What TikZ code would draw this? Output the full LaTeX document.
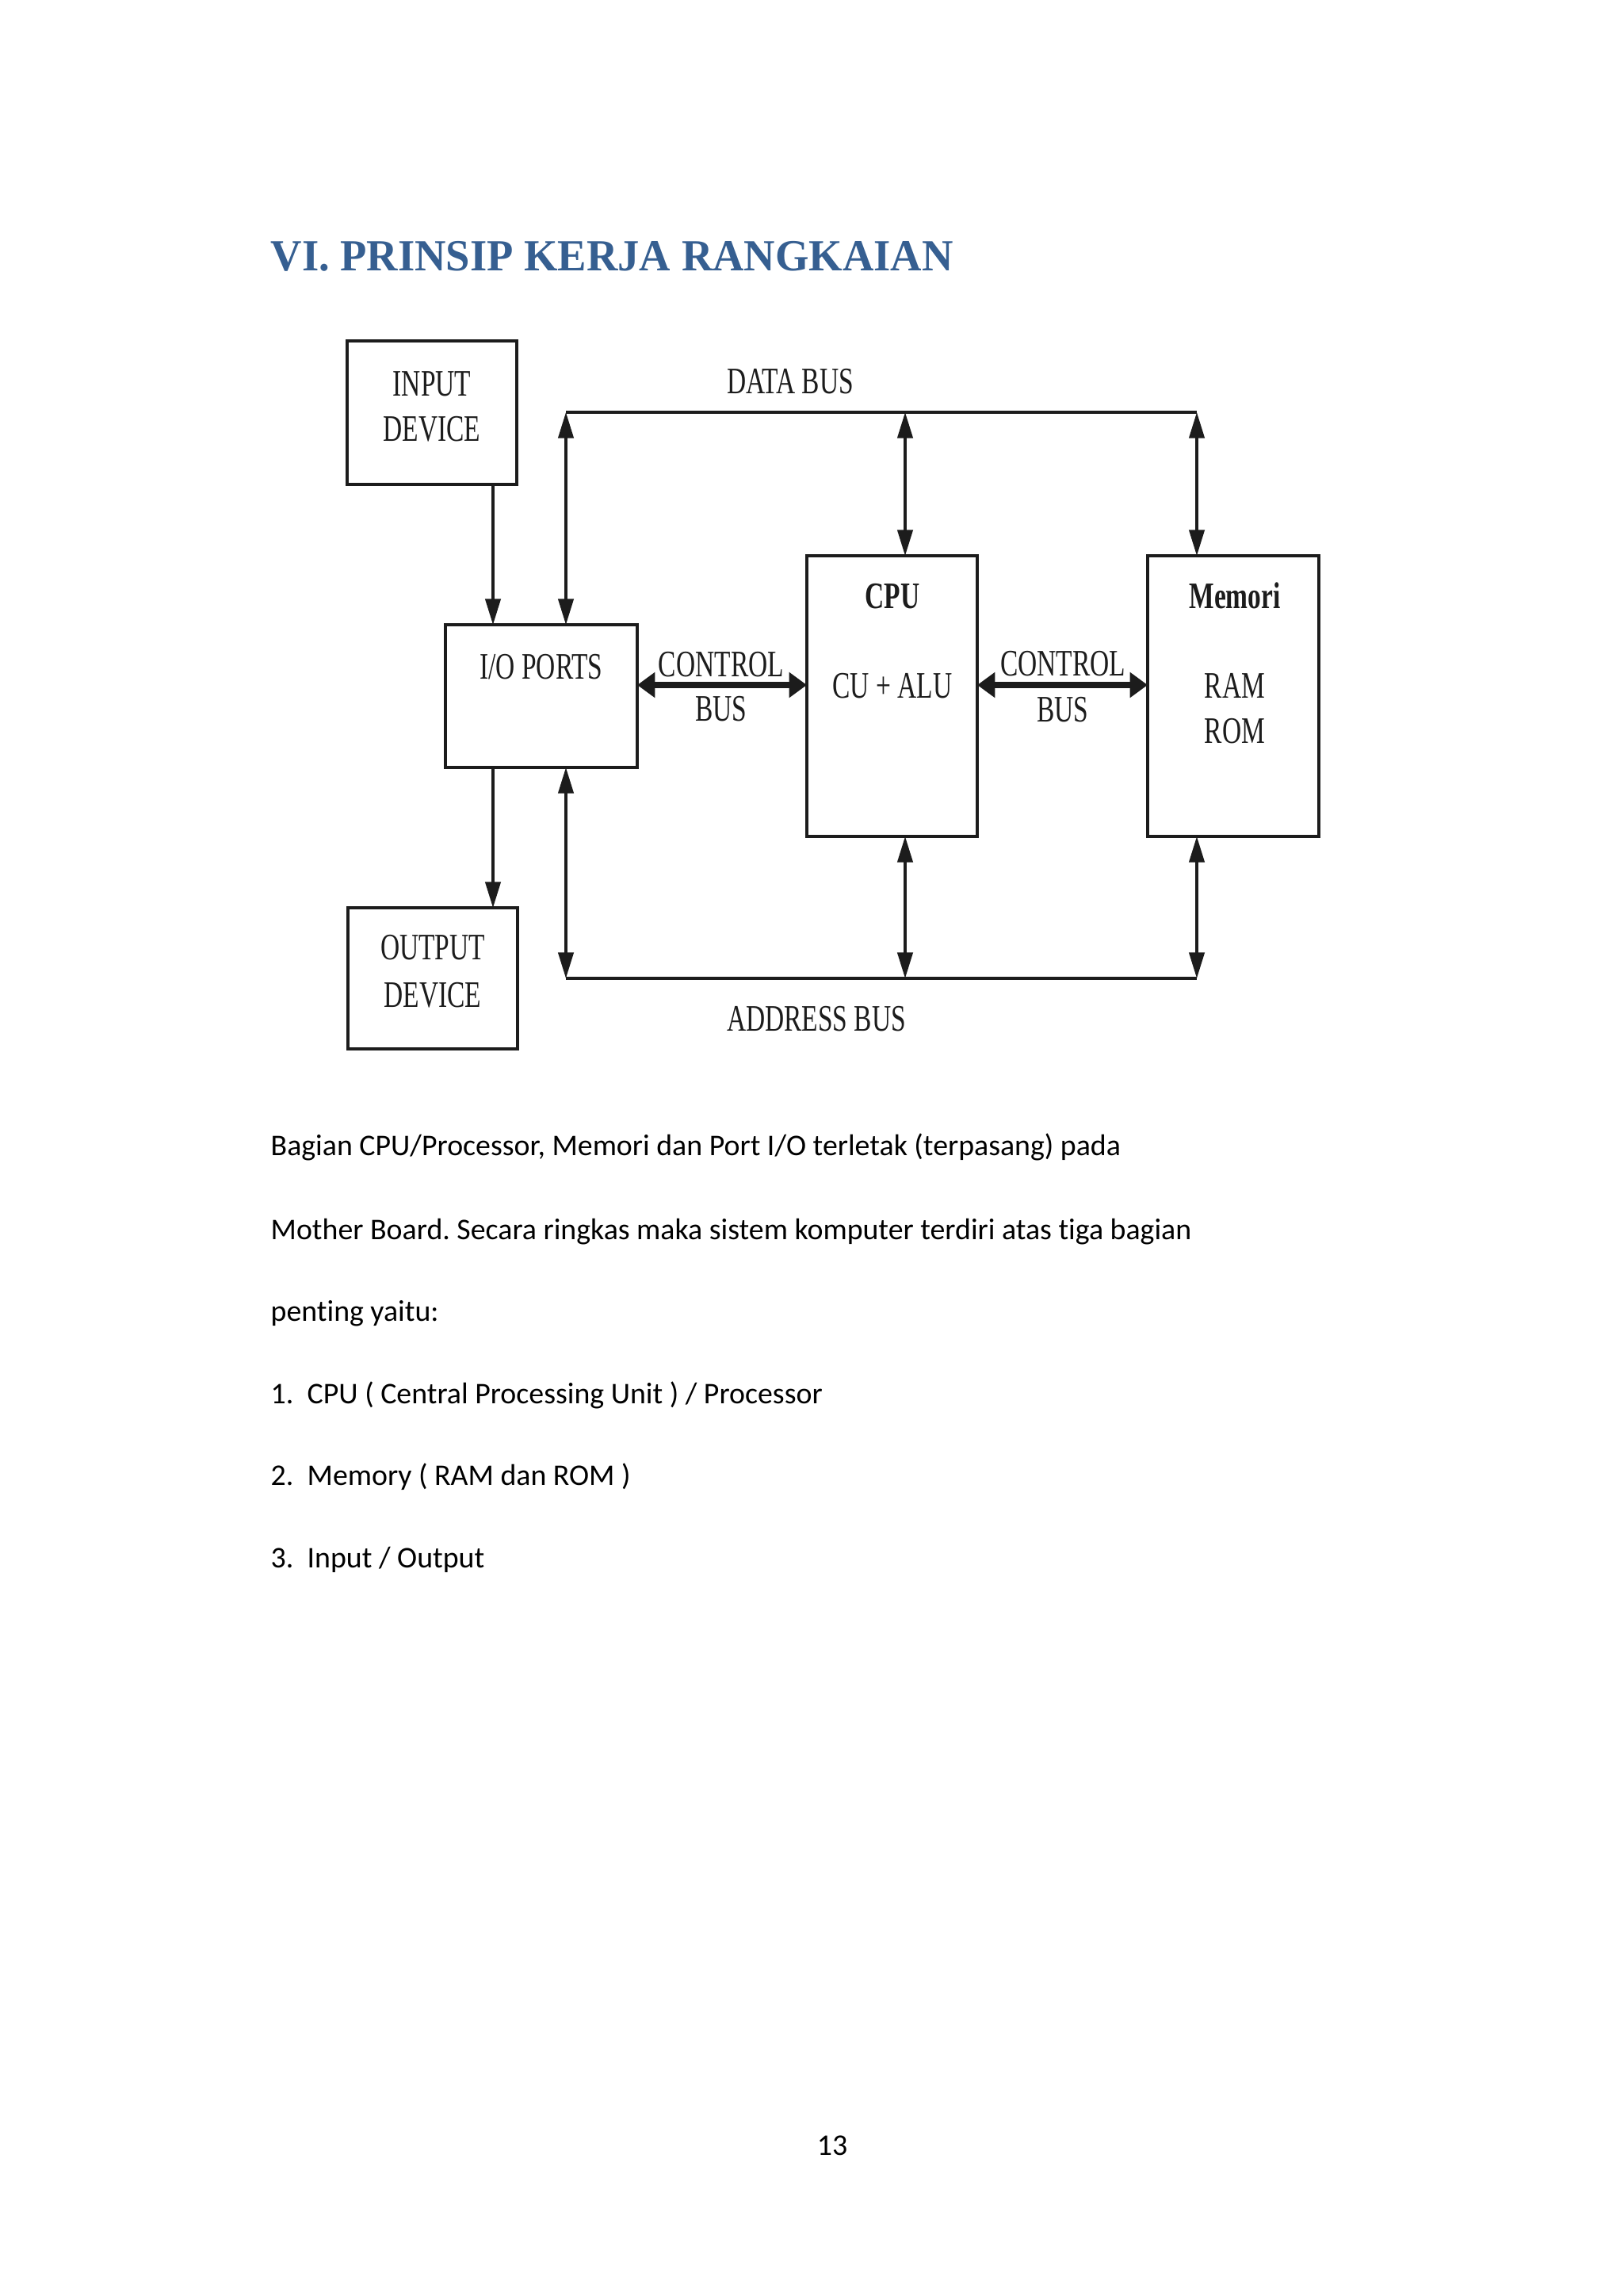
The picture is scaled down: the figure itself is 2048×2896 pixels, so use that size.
\documentclass[tikz,border=0pt]{standalone}
\usepackage{fontspec}
\setmainfont{Carlito}[Ligatures={NoCommon}]
\newfontfamily\diagfont[FakeStretch=0.71]{Liberation Serif}
\newfontfamily\headfont[FakeStretch=0.973]{Liberation Serif}
\usetikzlibrary{arrows.meta}
\definecolor{headblue}{HTML}{365F91}
\definecolor{ink}{HTML}{1C1C1C}
\def\u{0.29066pt}
\frenchspacing
\begin{document}
\begin{tikzpicture}[x=\u,y=-\u,
  box/.style={draw=ink, line width=1.1pt, inner sep=0pt, outer sep=0pt},
  lbl/.style={font=\diagfont\fontsize{13.7}{16}\selectfont, text=ink, anchor=base, inner sep=0pt},
  blbl/.style={lbl, font=\diagfont\bfseries\fontsize{13.7}{16}\selectfont},
  conn/.style={draw=ink, line width=1pt},
  arr/.style={conn, -{Triangle[length=9.5pt,width=5.6pt]}},
  darr/.style={conn, {Triangle[length=9.5pt,width=5.6pt]}-{Triangle[length=9.5pt,width=5.6pt]}},
  cbus/.style={draw=ink, line width=2.4pt, {Triangle[length=6.5pt,width=9pt]}-{Triangle[length=6.5pt,width=9pt]}},
  body/.style={font=\fontsize{11}{13}\selectfont, anchor=base west, inner sep=0pt},
]
\useasboundingbox (0,0) rectangle (2048,2896);
\fill[white] (0,0) rectangle (2048,2896);

% title
\node[font=\headfont\bfseries\fontsize{16.3}{19}\selectfont, text=headblue, anchor=base west, inner sep=0pt] (title) at (341,341) {VI. PRINSIP KERJA RANGKAIAN};

% boxes
\node[box, minimum width=214*\u, minimum height=181*\u] (in)  at (545,520.5) {};
\node[box, minimum width=242*\u, minimum height=180*\u] (io)  at (683,878) {};
\node[box, minimum width=215*\u, minimum height=354*\u] (cpu) at (1125.5,878) {};
\node[box, minimum width=216*\u, minimum height=354*\u] (mem) at (1556,878) {};
\node[box, minimum width=214*\u, minimum height=178*\u] (out) at (546,1234) {};

% bus coordinates
\coordinate (dbL) at (714,520);
\coordinate (dbC) at (1142,520);
\coordinate (dbR) at (1510,520);
\coordinate (abL) at (714,1234);
\coordinate (abC) at (1142,1234);
\coordinate (abR) at (1510,1234);
\coordinate (ioX) at (622,0);

% data bus and address bus
\draw[conn] (dbL) -- (dbR);
\draw[conn] (abL) -- (abR);
\draw[darr] (dbL) -- (dbL |- io.north);
\draw[darr] (dbC) -- (dbC |- cpu.north);
\draw[darr] (dbR) -- (dbR |- mem.north);
\draw[darr] (abL) -- (abL |- io.south);
\draw[darr] (abC) -- (abC |- cpu.south);
\draw[darr] (abR) -- (abR |- mem.south);

% input / output
\draw[arr] (in.south -| ioX) -- (io.north -| ioX);
\draw[arr] (io.south -| ioX) -- (out.north -| ioX);

% control buses
\draw[cbus] ([yshift=14*\u]io.east) -- ([yshift=14*\u]cpu.west);
\draw[cbus] ([yshift=14*\u]cpu.east) -- ([yshift=14*\u]mem.west);

% labels
\node[lbl] (tIn1) at (545,499) {INPUT};
\node[lbl] (tIn2) at (545,556) {DEVICE};
\node[lbl] (tDB) at (997,496) {DATA BUS};
\node[lbl] (tIO) at (683,856) {I/O PORTS};
\node[lbl] (tC1) at (910,853) {CONTROL};
\node[lbl] (tB1) at (910,909) {BUS};
\node[blbl] (tCPU) at (1126,767) {CPU};
\node[lbl] (tALU) at (1126,880) {CU + ALU};
\node[lbl] (tC2) at (1341,852) {CONTROL};
\node[lbl] (tB2) at (1341,910) {BUS};
\node[blbl] (tMem) at (1558,767) {Memori};
\node[lbl] (tRAM) at (1558,880) {RAM};
\node[lbl] (tROM) at (1558,937) {ROM};
\node[lbl] (tOut1) at (546,1210) {OUTPUT};
\node[lbl] (tOut2) at (546,1270) {DEVICE};
\node[lbl] (tAB) at (1030,1300) {ADDRESS BUS};

% body text
\node[body] (p1) at (341,1457) {Bagian CPU/Processor, Memori dan Port I/O terletak (terpasang) pada};
\node[body] (p2) at (341,1563) {Mother Board. Secara ringkas maka sistem komputer terdiri atas tiga bagian};
\node[body] (p3) at (341,1666) {penting yaitu:};
\node[body] (n1) at (341,1770) {1.};
\node[body] (l1) at (387,1770) {CPU ( Central Processing Unit ) / Processor};
\node[body] (n2) at (341,1873) {2.};
\node[body] (l2) at (387,1873) {Memory ( RAM dan ROM )};
\node[body] (n3) at (341,1977) {3.};
\node[body] (l3) at (387,1977) {Input / Output};

% page number
\node[font=\fontsize{11}{13}\selectfont, anchor=base, inner sep=0pt] (pg) at (1050,2718) {13};
\end{tikzpicture}
\end{document}
